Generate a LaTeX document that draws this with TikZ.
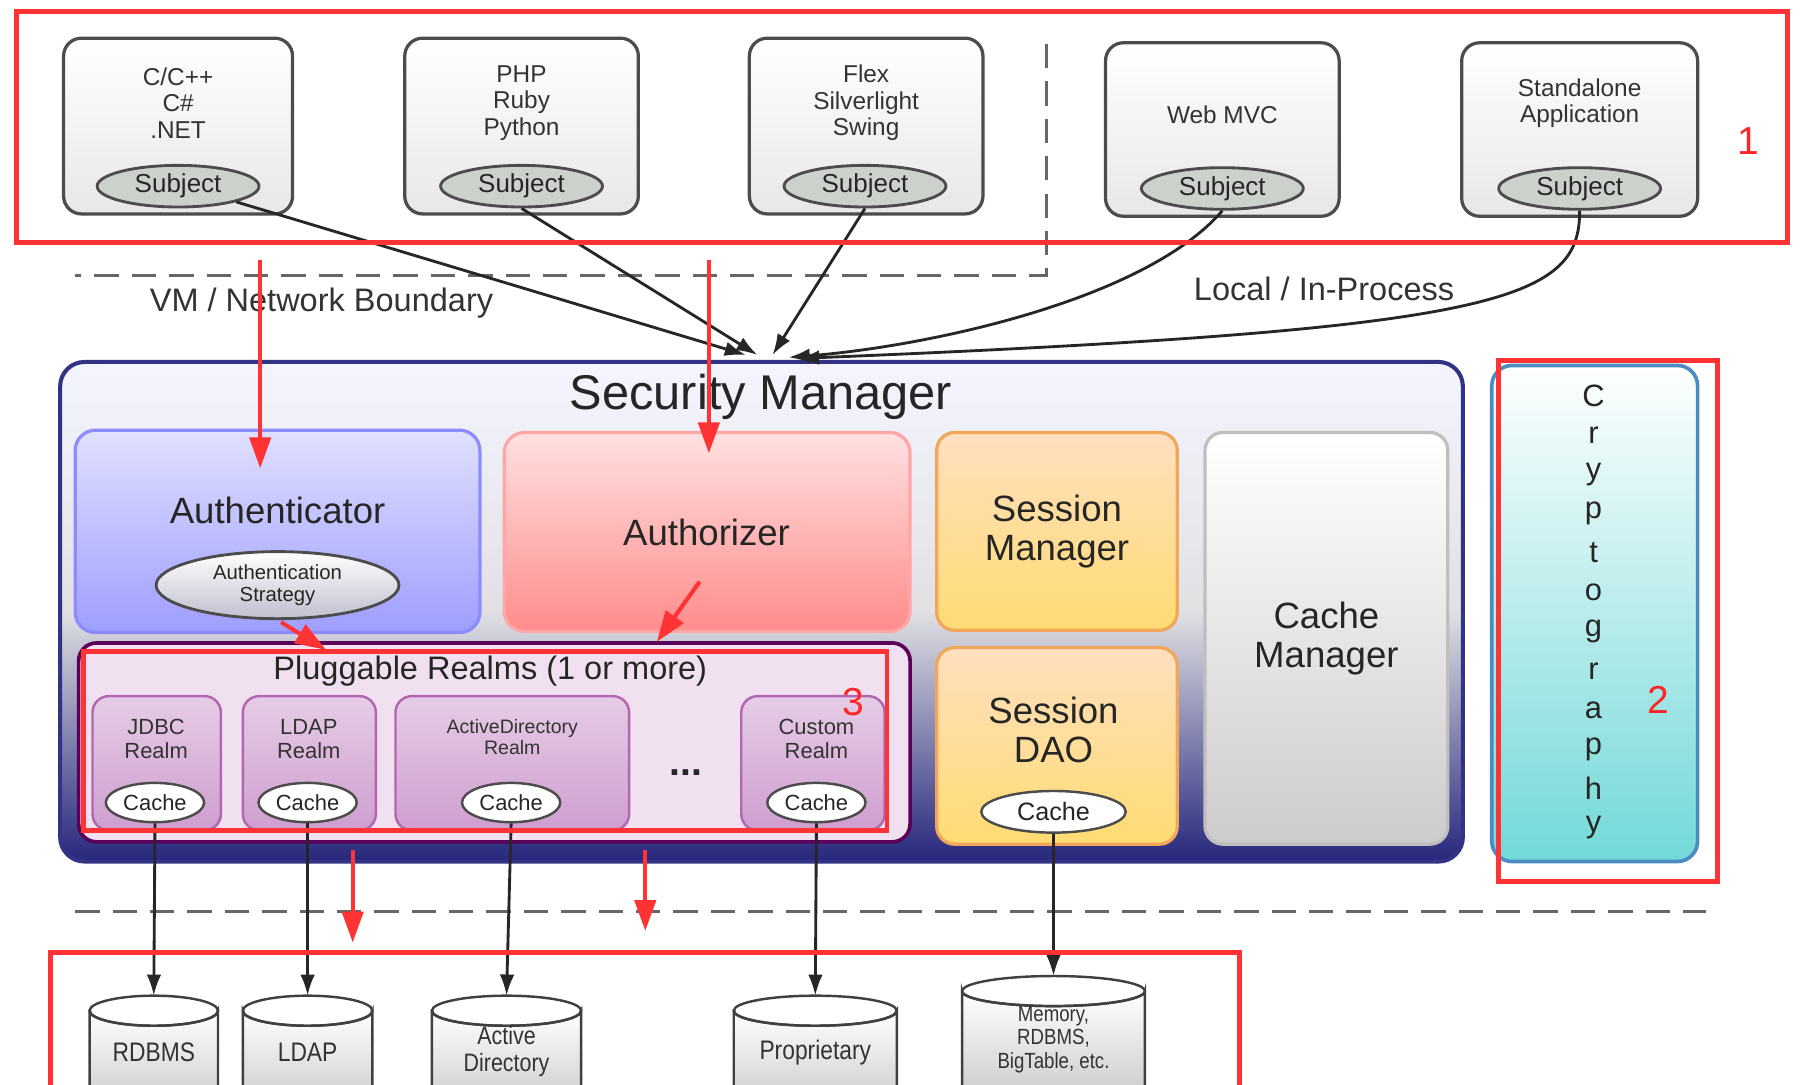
\documentclass[tikz,border=0pt]{standalone}
\usepackage{fontspec}
\setmainfont{Liberation Sans}
\usetikzlibrary{arrows.meta,shapes.geometric}
\newcommand{\fz}[1]{\fontsize{#1pt}{\the\dimexpr #1pt*108/100\relax}\selectfont}
\newcommand{\mycyl}[8]{%
 \path[draw=black!75,line width=3pt,top color=white,bottom color=black!22] ({#2-#4/2},#3) -- ({#2-#4/2},{#3+#5}) arc (180:360:{#4/2} and 13) -- ({#2+#4/2},#3) arc (0:180:{#4/2} and 13) -- cycle;
 \draw[black!75,line width=3pt] (#2,#3) ellipse ({#4/2} and 13);
 \coordinate (#1) at (#2,{#3-13});
 \node[font=\fz{#8},text=black!80,align=center,xscale=0.85] at (#2,#7) {#6};}
\begin{document}
\begin{tikzpicture}[x=0.05cm,y=-0.05cm,
 app/.style={draw=black!70,line width=4pt,rounded corners=22,top color=white,bottom color=yellow!8!black!10,text=black!75,align=center},
 subj/.style={ellipse,draw=black!70,line width=3.5pt,fill=green!10!black!20,minimum width=140*0.05cm,minimum height=36*0.05cm,inner sep=0,font=\fz{32},text=black!85},
 cache/.style={ellipse,draw=black!70,line width=3pt,fill=white,minimum width=85*0.05cm,minimum height=34*0.05cm,inner sep=0,font=\fz{27},text=black!85},
 realm/.style={draw=violet!60,line width=3pt,rounded corners=20,top color=violet!20,bottom color=violet!38,text=black!80,align=center},
 conn/.style={black!85,line width=3.5pt,-{Latex[length=26pt,width=18pt]}},
 redarr/.style={red!80,line width=5pt,-{Triangle[length=38pt,width=26pt]}},
 redbox/.style={draw=red!80,line width=6pt},
 bdash/.style={draw=black!60,line width=4pt,dash pattern=on 30pt off 16pt},
 lbl/.style={text=black!80,align=center}]
\useasboundingbox (0,0) rectangle (1560,937.5);
\clip (0,0) rectangle (1560,937.5);
% top apps
\node[app,minimum width=198*0.05cm,minimum height=152*0.05cm] (a1) at (154,109) {};
\node[app,minimum width=202*0.05cm,minimum height=152*0.05cm] (a2) at (451,109) {};
\node[app,minimum width=202*0.05cm,minimum height=152*0.05cm] (a3) at (749,109) {};
\node[app,minimum width=202*0.05cm,minimum height=150*0.05cm] (a4) at (1057,112) {};
\node[app,minimum width=204*0.05cm,minimum height=150*0.05cm] (a5) at (1366,112) {};
\node[lbl,font=\fz{30}] (t1) at (154,89) {C/C++\\C\#\\.NET};
\node[lbl,font=\fz{30}] (t2) at (451,89) {PHP\\Ruby\\Python};
\node[lbl,font=\fz{30}] (t3) at (749,89) {Flex\\Silverlight\\Swing};
\node[lbl,font=\fz{30}] (t4) at (1057,99) {Web MVC};
\node[lbl,font=\fz{30}] (t5) at (1366,89) {Standalone\\Application};
\node[subj] (s1) at (154,161) {Subject};
\node[subj] (s2) at (451,161) {Subject};
\node[subj] (s3) at (748,161) {Subject};
\node[subj] (s4) at (1057,163) {Subject};
\node[subj] (s5) at (1366,163) {Subject};
% boundaries
\draw[bdash] (905,38) -- (905,238) -- (65,238);
\node[lbl,font=\fz{40}] (vm) at (278,262) {VM / Network Boundary};
\node[lbl,font=\fz{40}] (lp) at (1145,250) {Local / In-Process};
% security manager
\node[draw=blue!40!black!80,line width=5pt,rounded corners=30,top color=blue!4,bottom color=blue!40!black!85,middle color=blue!10!black!12,minimum width=1213*0.05cm,minimum height=432*0.05cm] (sm) at (658.5,529) {};
\node[font=\fz{60},text=black!85] (smt) at (658,343) {Security Manager};
\node[draw=blue!45,line width=4pt,rounded corners=25,top color=blue!12,bottom color=blue!38,minimum width=350*0.05cm,minimum height=175*0.05cm] (au) at (240,459.5) {};
\node[font=\fz{45},text=black!85] (aut) at (240,441) {Authenticator};
\node[ellipse,draw=black!70,line width=3.5pt,top color=white,bottom color=blue!25!black!25,minimum width=210*0.05cm,minimum height=58*0.05cm,inner sep=0,align=center,font=\fz{25},text=black!85] (as) at (240,506) {Authentication\\Strategy};
\node[draw=red!35,line width=4pt,rounded corners=25,top color=red!12,bottom color=red!45,minimum width=351*0.05cm,minimum height=172*0.05cm] (az) at (611.5,460) {};
\node[font=\fz{45},text=black!85] (azt) at (611,460) {Authorizer};
\node[draw=orange!70!brown!70,line width=4pt,rounded corners=22,top color=orange!25,bottom color=orange!50!yellow!55,minimum width=208*0.05cm,minimum height=171*0.05cm,align=center,font=\fz{45},text=black!85] (ssm) at (914,459.5) {Session\\Manager};
\node[draw=orange!70!brown!70,line width=4pt,rounded corners=22,top color=orange!25,bottom color=orange!50!yellow!55,minimum width=208*0.05cm,minimum height=170*0.05cm] (sd) at (914,645) {};
\node[font=\fz{45},text=black!85,align=center] (sdt) at (911,631) {Session\\DAO};
\node[cache,minimum width=125*0.05cm,minimum height=36*0.05cm,font=\fz{31}] (sdc) at (911,702) {Cache};
\node[draw=black!25,line width=4pt,rounded corners=22,top color=white,bottom color=black!20,minimum width=210*0.05cm,minimum height=356*0.05cm,align=center,font=\fz{45},text=black!85] (cm) at (1147,552) {Cache\\Manager};
% realms
\node[draw=violet!70!black,line width=4.5pt,rounded corners=22,fill=violet!12,minimum width=719*0.05cm,minimum height=172*0.05cm] (pr) at (427.5,642) {};
\node[font=\fz{40},text=black!85] (prt) at (424,580) {Pluggable Realms (1 or more)};
\node[realm,minimum width=111*0.05cm,minimum height=116*0.05cm] (r1) at (135.5,660) {};
\node[realm,minimum width=115*0.05cm,minimum height=116*0.05cm] (r2) at (267.5,660) {};
\node[realm,minimum width=202*0.05cm,minimum height=116*0.05cm] (r3) at (443,660) {};
\node[realm,minimum width=124*0.05cm,minimum height=116*0.05cm] (r4) at (703,660) {};
\node[lbl,font=\fz{27}] at (135,639) {JDBC\\Realm};
\node[lbl,font=\fz{27}] at (267,639) {LDAP\\Realm};
\node[lbl,font=\fz{24}] at (443,637) {ActiveDirectory\\Realm};
\node[lbl,font=\fz{27}] at (706,639) {Custom\\Realm};
\node[cache] (c1) at (134,694) {Cache};
\node[cache] (c2) at (266,694) {Cache};
\node[cache] (c3) at (442,694) {Cache};
\node[cache] (c4) at (706,694) {Cache};
\node[font=\bfseries\fz{48},text=black!85] (dots) at (593,668) {...};
% cryptography
\node[draw=teal!70!blue!70,line width=4.5pt,rounded corners=25,top color=white,bottom color=cyan!45!teal!55,minimum width=178*0.05cm,minimum height=429*0.05cm] (cr) at (1379,530.5) {};
\foreach \l [count=\i from 0] in {C,r,y,p,t,o,g,r,a,p,h,y}
  \node[font=\fz{38},text=black!85] at (1378,{342+\i*34}) {\l};
% bottom dash
\draw[bdash] (65,788) -- (1475,788);
% cylinders
\mycyl{d1}{133}{874}{111}{90}{RDBMS}{910}{33}
\mycyl{d2}{266}{874}{112}{90}{LDAP}{910}{33}
\mycyl{d3}{438}{874}{129}{90}{Active\\Directory}{909}{31}
\mycyl{d4}{705}{874}{141}{90}{Proprietary}{910}{33}
\mycyl{d5}{911}{857}{158}{100}{Memory,\\RDBMS,\\BigTable, etc.}{899}{27}
% connectors
\draw[conn] (s1.south east) -- (645,307);
\draw[conn] (s2.south) -- (655,307);
\draw[conn] (s3.south) -- (668,307);
\draw[conn] (s4.south) .. controls (990,260) and (800,300) .. (682,309);
\draw[conn] (s5.south) .. controls (1366,260) and (1300,285) .. (690,310);
\draw[conn] (c1.south) -- (d1);
\draw[conn] (c2.south) -- (d2);
\draw[conn] (c3.south) -- (d3);
\draw[conn] (c4.south) -- (d4);
\draw[conn] (sdc.south) -- (d5);
% red boxes and arrows
\draw[redbox] (14,10) rectangle (1546,210);
\draw[redbox] (1296,312) rectangle (1485,762);
\draw[redbox] (72,563) rectangle (767,718);
\draw[redbox] (44,824) rectangle (1072,960);
\node[font=\fz{48},text=red!85] at (1512,122) {1};
\node[font=\fz{48},text=red!85] at (1434,605) {2};
\node[font=\fz{48},text=red!85] at (738,607) {3};
\draw[redarr] (225,225) -- (225,405);
\draw[redarr] (613,225) -- (613,392);
\draw[redarr] (605,503) -- (568,555);
\draw[redarr] (243,538) -- (282,562);
\draw[redarr] (305,735) -- (305,815);
\draw[redarr] (558,735) -- (558,805);
\end{tikzpicture}
\end{document}
